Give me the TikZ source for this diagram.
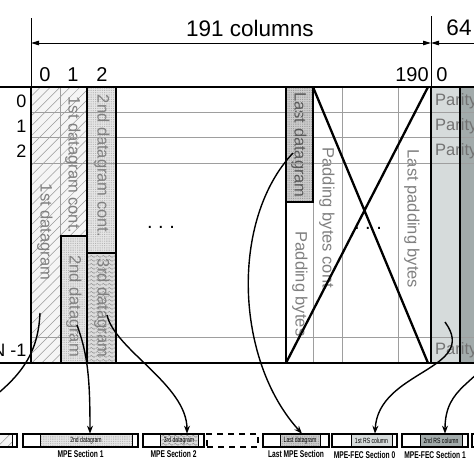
\documentclass[tikz,border=0pt]{standalone}
\usepackage{fontspec}
\usepackage{tikz}
\setmainfont{Liberation Sans}
\newfontfamily\narrowfont[FakeStretch=0.68]{Liberation Sans}
\usetikzlibrary{arrows.meta,patterns,patterns.meta,positioning}

\definecolor{parityA}{RGB}{214,219,219}
\definecolor{parityB}{RGB}{162,171,171}

% wavy fill of the 3rd datagram
\pgfdeclarepattern{
  name=waves,
  type=uncolored,
  bottom left={\pgfpoint{0pt}{0pt}},
  top right={\pgfpoint{6pt}{4pt}},
  tile size={\pgfpoint{6pt}{4pt}},
  code={
    \pgfsetlinewidth{0.5pt}
    \pgfpathmoveto{\pgfpoint{0pt}{2pt}}
    \pgfpathcurveto{\pgfpoint{1pt}{3.5pt}}{\pgfpoint{2pt}{3.5pt}}{\pgfpoint{3pt}{2pt}}
    \pgfpathcurveto{\pgfpoint{4pt}{0.5pt}}{\pgfpoint{5pt}{0.5pt}}{\pgfpoint{6pt}{2pt}}
    \pgfusepath{stroke}
  }
}

\tikzset{
  thickline/.style={line width=2.6pt},
  gridline/.style={line width=0.9pt, black!38},
  xline/.style={line width=2.3pt},
  coltext/.style={rotate=-90, text=black!50, inner sep=0pt, font=\fontsize{16.5}{18}\selectfont},
  partext/.style={text=black!55, inner sep=0pt, font=\fontsize{16.5}{18}\selectfont},
  hatched/.style={preaction={fill=black!4}, pattern color=black!40, pattern={Lines[angle=45,distance=7pt,line width=0.5pt]}},
  dotsA/.style={preaction={fill=black!10}, pattern color=black!45, pattern={Dots[distance=1.8pt,radius=0.35pt]}},
  dotsB/.style={preaction={fill=black!20}, pattern color=black!55, pattern={Dots[distance=1.8pt,radius=0.35pt]}},
  wavy/.style={preaction={fill=black!14}, pattern color=black!50, pattern=waves},
  flow/.style={line width=1.4pt, -{Stealth[length=8pt,width=6pt]}},
  dim/.style={line width=0.9pt},
  secframe/.style={draw, line width=1.4pt, minimum height=13pt, inner sep=0pt},
  payload/.style={draw, line width=0.7pt, minimum height=13pt, inner sep=0pt, font=\narrowfont\fontsize{7.5}{8}\selectfont},
  seclabel/.style={inner sep=1pt, font=\narrowfont\bfseries\fontsize{9.8}{11}\selectfont},
}

\begin{document}
\begin{tikzpicture}[x=1pt,y=-1pt]
\useasboundingbox (0,0) rectangle (474,474);
\clip (0,0) rectangle (474,474);

% filled areas of the frame
\path[hatched] (31,87) -- (87,87) -- (87,236) -- (61,236) -- (61,363) -- (31,363) -- cycle;
\path[dotsA] (61,236) -- (87,236) -- (87,87) -- (116,87) -- (116,253) -- (87,253) -- (87,363) -- (61,363) -- cycle;
\path[wavy] (87,253) rectangle (116,363);
\path[dotsB] (286,87) rectangle (313,202);
\fill[parityA] (431,87) rectangle (460,363);
\fill[parityB] (460,87) rectangle (480,363);

% column texts
\node[coltext] (dg1) at (45,232) {1st datagram};
\node[coltext] (dg1c) at (73,165) {1st datagram cont.};
\node[coltext] (dg2c) at (102,166) {2nd datagram cont.};
\node[coltext] (dg2) at (74,306) {2nd datagram};
\node[coltext] (dg3) at (102,308) {3rd datagram};
\node[coltext, text=black!65] (dglast) at (299,145) {Last datagram};
\node[coltext] (pad) at (300,284) {Padding bytes};
\node[coltext] (padc) at (327,220) {Padding bytes cont.};
\node[coltext] (padlast) at (412,219) {Last padding bytes};
\foreach \y/\n in {101/0,126/1,151/2,350/n}
  \node[partext, anchor=west] (par\n) at (435,\y) {Parity};

% rows and columns
\foreach \y in {112,137,163,337}
  \draw[gridline] (31,\y) -- (474,\y);
\foreach \x in {313,342,398}
  \draw[gridline] (\x,87) -- (\x,363);
\draw[gridline] (60,87) -- (60,236);
\draw[line width=1.2pt] (0,87) -- (31,87) (0,363) -- (31,363);

% borders between datagrams
\draw[thickline] (31,87) -- (474,87) (31,363) -- (474,363) (31,87) -- (31,363);
\draw[thickline] (61,363) -- (61,236) -- (87,236);
\draw[thickline] (87,87) -- (87,363) (116,87) -- (116,363) (87,253) -- (116,253);
\draw[thickline] (286,87) -- (286,363) (286,202) -- (313,202) -- (313,87);
\draw[thickline] (431,87) -- (431,363) (460,87) -- (460,363);
% padding area crossed out
\draw[xline] (313,87) -- (428,363) (286,363) -- (428,87);

\node[font=\fontsize{20}{24}\selectfont, inner sep=0pt] (gap1) at (161,227) {.\ .\ .};
\node[font=\fontsize{20}{24}\selectfont, inner sep=0pt] (gap2) at (368,228) {.\ .\ .};

% column and row numbers
\foreach \x/\t in {45/0,73/1,102/2,412/190,442/0}
  \node[font=\fontsize{20}{24}\selectfont] (col\t) at (\x,75) {\t};
\foreach \y/\t in {101/0,126/1,151/2,350/N -1}
  \node[font=\fontsize{18}{22}\selectfont, anchor=east, inner sep=0pt] at (26.5,\y) {\t};

% sizes of the frame
\coordinate (dimL) at (31,43);
\coordinate (dimM) at (431,43);
\coordinate (dimR) at (490,43);
\draw[dim] (31,18) -- (31,87) (431,16) -- (431,87);
\draw[dim, {Triangle[length=8pt,width=4.5pt]}-{Triangle[length=8pt,width=4.5pt]}] (dimL) -- (dimM);
\draw[dim, {Triangle[length=8pt,width=4.5pt]}-] (dimM) -- (dimR);
\node[font=\fontsize{22.5}{26}\selectfont] (ncols) at (250,28) {191 columns};
\node[font=\fontsize{22.5}{26}\selectfont] (nrs) at (459,28) {64};

% sections
\node[payload, hatched, minimum width=22pt] (sec0) at (1,440.5) {};
\node[secframe, minimum width=27pt] (s0) at (3.5,440.5) {};
\node[payload, dotsA, minimum width=92pt] (sec1) at (86,440.5) {2nd datagram};
\node[secframe, minimum width=115pt] (s1) at (80.5,440.5) {};
\node[payload, wavy, minimum width=38pt] (sec2) at (179,440.5) {3rd datagram};
\node[secframe, minimum width=61pt] (s2) at (173.5,440.5) {};
\node[secframe, dashed, dash pattern=on 6pt off 5pt, minimum width=51pt] (sgap) at (232.5,440.5) {};
\node[payload, dotsB, minimum width=40pt] (sec3) at (300,440.5) {Last datagram};
\node[secframe, minimum width=66pt] (s3) at (296,440.5) {};
\node[payload, fill=parityA, minimum width=41pt] (fec0) at (371.5,440.5) {1st RS column};
\node[secframe, minimum width=65pt] (f0) at (364.5,440.5) {};
\node[payload, fill=parityB, minimum width=42pt] (fec1) at (441,440.5) {2nd RS column};
\node[secframe, minimum width=66pt] (f1) at (435,440.5) {};
\node[secframe, minimum width=30pt] (fnext) at (487,440.5) {};

\node[seclabel, below=1.5pt of s1] {MPE Section 1};
\node[seclabel, below=1.5pt of s2] {MPE Section 2};
\node[seclabel, below=1.5pt of s3] {Last MPE Section};
\node[seclabel, below=2.5pt of f0] {MPE-FEC Section 0};
\node[seclabel, below=2.5pt of f1] {MPE-FEC Section 1};

% where each part goes
\coordinate (src1) at (40,313);
\coordinate (src2) at (77,325);
\coordinate (src3) at (107,315);
\coordinate (srcL) at (293,153);
\coordinate (srcP) at (445,322);
\coordinate (srcQ) at (500,345);
\coordinate (prev) at (-30,415);
\draw[flow] (src1) .. controls (38,360) and (15,382) .. (prev);
\draw[flow] (src2) .. controls (88,355) and (90,380) .. ([xshift=4pt]sec1.north);
\draw[flow] (src3) .. controls (115,350) and (187,385) .. ([xshift=8pt]sec2.north);
\draw[flow] (srcL) .. controls (230,220) and (235,360) .. ([xshift=2pt]sec3.north);
\draw[flow] (srcP) .. controls (480,370) and (378,370) .. ([xshift=3.5pt]fec0.north);
\draw[flow] (srcQ) .. controls (478,385) and (445,385) .. ([xshift=4pt]fec1.north);
\end{tikzpicture}
\end{document}
